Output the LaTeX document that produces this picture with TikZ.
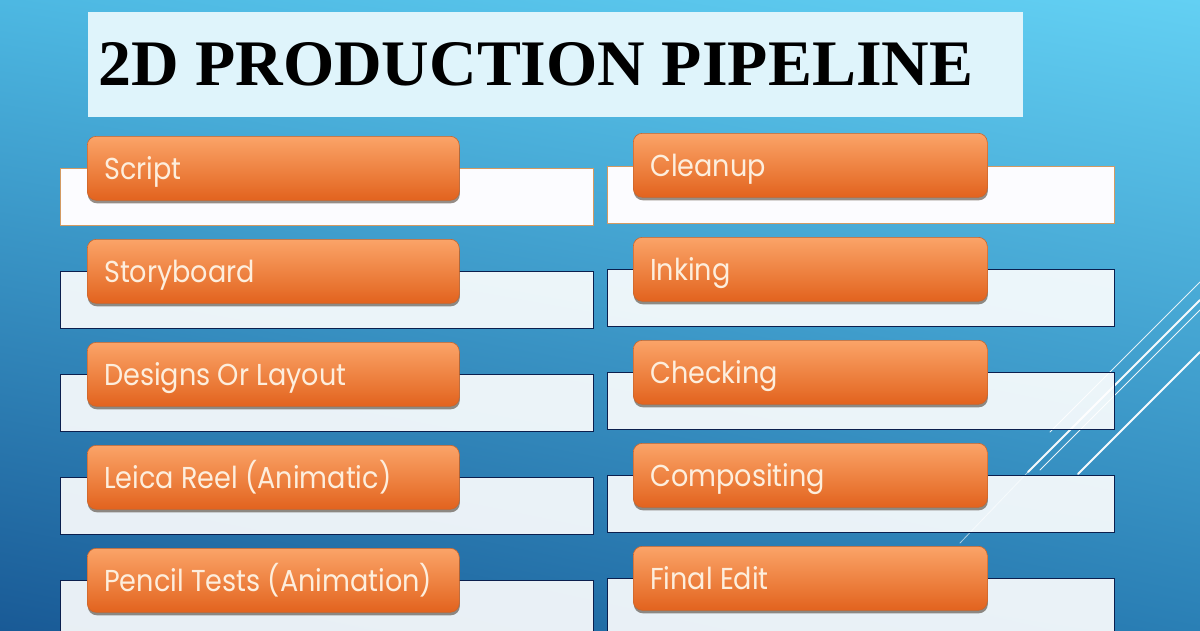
\documentclass[tikz,border=0pt]{standalone}
\usepackage{fontspec}
\setmainfont{Liberation Serif}
\newfontfamily\boxfont{Poppins}
\usetikzlibrary{shadows,shadings}
\definecolor{bgUL}{HTML}{4DB8E2}
\definecolor{bgUR}{HTML}{63D0F3}
\definecolor{bgLL}{HTML}{195A96}
\definecolor{bgLR}{HTML}{2A7FB5}
\definecolor{titlefill}{HTML}{DFF4FB}
\definecolor{orTop}{HTML}{FBA468}
\definecolor{orBot}{HTML}{E2631E}
\definecolor{orEdge}{HTML}{C9652B}
\definecolor{txtcol}{HTML}{FDEEDD}
\definecolor{navy}{HTML}{0B1F4E}
\definecolor{tan}{HTML}{D39A62}
\newcommand{\btxt}[1]{\scalebox{0.985}[1.1]{#1}}
\tikzset{
  wbox/.style={draw=navy, line width=1.3pt, fill=white, fill opacity=0.9, draw opacity=1,
    anchor=north west, minimum height=57pt, inner sep=0pt},
  firstbox/.style={draw=tan, line width=1.3pt, fill=white!99!blue, fill opacity=1,
    anchor=north west, minimum height=57pt, inner sep=0pt},
  obox/.style={rounded corners=9pt, top color=orTop, bottom color=orBot, draw=orEdge,
    line width=0.6pt, anchor=north west, minimum height=64pt, inner sep=0pt,
    drop shadow={shadow xshift=0.5pt, shadow yshift=-3pt, opacity=0.5, fill=black!75!brown}},
  lbox/.style={minimum width=533pt},
  rbox/.style={minimum width=507pt},
  lobox/.style={minimum width=372pt},
  robox/.style={minimum width=354pt},
  otext/.style={anchor=base west, inner sep=0pt, text=txtcol,
    font=\boxfont\fontsize{27.5}{27.5}\selectfont},
  deco/.style={draw=white, line cap=round}
}
\begin{document}
\begin{tikzpicture}[x=1pt, y=-1pt]
\useasboundingbox (0,0) rectangle (1200,630);
% background
\shade[upper left=bgUL, upper right=bgUR, lower left=bgLL, lower right=bgLR]
  (0,0) rectangle (1200,630);
% decorative diagonal lines
\draw[deco, line width=0.8pt, opacity=0.85] (1200,282) -- (1050,432);
\draw[deco, line width=2pt, opacity=0.95] (1200,300) -- (1028,472);
\draw[deco, line width=0.8pt, opacity=0.9] (1200,310) -- (1040,470);
\draw[deco, line width=2pt, opacity=0.95] (1200,352) -- (1078,474);
\draw[deco, line width=0.8pt, opacity=0.6] (1028,472) -- (960,543);
% title
\node[fill=titlefill, anchor=north west, minimum width=935pt, minimum height=105pt,
  inner sep=0pt] (titlebox) at (88,12) {};
\node[anchor=base west, inner sep=0pt] (title) at (98,85)
  {\resizebox{875pt}{43pt}{\fontsize{64}{64}\selectfont\bfseries 2D PRODUCTION PIPELINE}};
% left column
\node[firstbox, lbox] (wl1) at (60,168) {};
\node[wbox, lbox] (wl2) at (60,271) {};
\node[wbox, lbox] (wl3) at (60,374) {};
\node[wbox, lbox] (wl4) at (60,477) {};
\node[wbox, lbox] (wl5) at (60,580) {};
% right column
\node[firstbox, rbox] (wr1) at (607,166) {};
\node[wbox, rbox] (wr2) at (607,269) {};
\node[wbox, rbox] (wr3) at (607,372) {};
\node[wbox, rbox] (wr4) at (607,475) {};
\node[wbox, rbox] (wr5) at (607,578) {};
% orange boxes left
\node[obox, lobox] (ol1) at (87,136) {};
\node[obox, lobox] (ol2) at (87,239) {};
\node[obox, lobox] (ol3) at (87,342) {};
\node[obox, lobox] (ol4) at (87,445) {};
\node[obox, lobox] (ol5) at (87,548) {};
\node[otext] (tl1) at (104,179) {\btxt{Script}};
\node[otext] (tl2) at (104,282) {\btxt{Storyboard}};
\node[otext] (tl3) at (104,385) {\btxt{Designs Or Layout}};
\node[otext] (tl4) at (104,488) {\btxt{Leica Reel (Animatic)}};
\node[otext] (tl5) at (104,591) {\btxt{Pencil Tests (Animation)}};
% orange boxes right
\node[obox, robox] (or1) at (633,133) {};
\node[obox, robox] (or2) at (633,237) {};
\node[obox, robox] (or3) at (633,340) {};
\node[obox, robox] (or4) at (633,443) {};
\node[obox, robox] (or5) at (633,546) {};
\node[otext] (tr1) at (650,176) {\btxt{Cleanup}};
\node[otext] (tr2) at (650,280) {\btxt{Inking}};
\node[otext] (tr3) at (650,383) {\btxt{Checking}};
\node[otext] (tr4) at (650,486) {\btxt{Compositing}};
\node[otext] (tr5) at (650,589) {\btxt{Final Edit}};
\end{tikzpicture}
\end{document}
